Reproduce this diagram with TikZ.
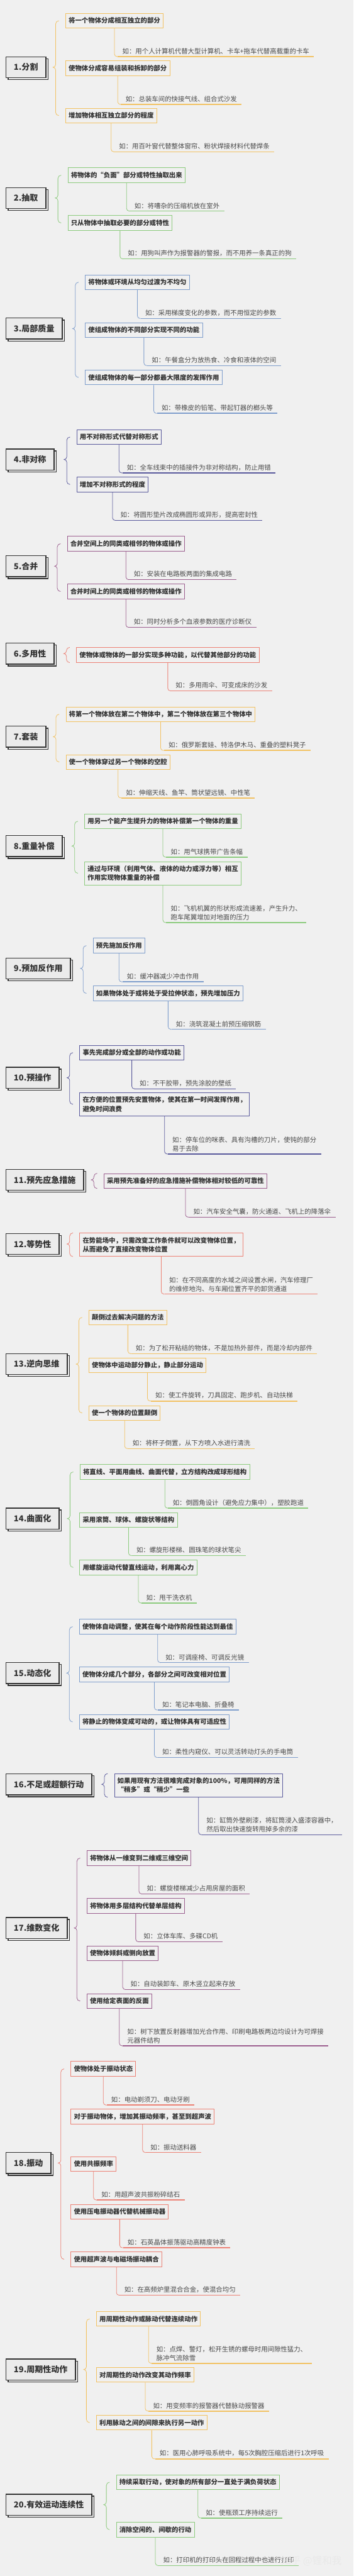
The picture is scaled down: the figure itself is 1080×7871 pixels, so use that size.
\documentclass[tikz,border=0pt]{standalone}
\usepackage{fontspec}
\setmainfont{Noto Sans CJK SC}
\usetikzlibrary{calc,shadows}
\definecolor{bgc}{HTML}{F0F0F0}
\definecolor{mfill}{HTML}{EBEBEB}
\definecolor{mdraw}{HTML}{333333}
\definecolor{ktext}{HTML}{333333}
\definecolor{etext}{HTML}{4A4A4A}
\definecolor{cyel}{HTML}{F2C263}
\definecolor{cgrn}{HTML}{8DCB7E}
\definecolor{cblu}{HTML}{7F9ECC}
\definecolor{cind}{HTML}{5A5A9C}
\definecolor{cplm}{HTML}{9C5F8F}
\definecolor{csal}{HTML}{EC8276}
\colorlet{cur}{cyel}
\tikzset{
  mainbox/.style={draw=mdraw, line width=2.5pt, fill=mfill, minimum height=64pt, inner xsep=24pt,
    font=\fontsize{25}{30}\selectfont\bfseries, text=ktext,
    copy shadow={shadow xshift=7pt, shadow yshift=-6pt, fill=mfill, draw=mdraw, line width=2.5pt}},
  kidbox/.style={draw=cur, line width=1.6pt, fill=bgc, inner xsep=9pt, minimum height=45pt,
    font=\fontsize{20}{27}\selectfont\bfseries, text=ktext, align=left},
  exbox/.style={inner xsep=14pt, inner ysep=7pt, font=\fontsize{20}{27}\selectfont, text=etext, align=left},
  exv/.style={draw=cur, line width=1.5pt, rounded corners=8pt},
  exu/.style={draw=cur, line width=3pt},
  brl/.style={draw=cur, line width=1.5pt},
}
\newcommand{\Kid}[7][]{%
  \node[kidbox,#1,anchor=north west] (#2) at (#3,#4) {#5};
  \node[exbox,anchor=south west,xshift=10pt] (#2e) at (#2.south |- 0,#6) {#7};
  \draw[exv] (#2.south) |- (#2e.south west);
  \draw[exu] (#2e.south west) -- (#2e.south east);
}
\newcommand{\Brace}[3]{%
  \draw[brl] let \p1=#1, \p2=#2, \p3=(#3.east) in
    (\x1-20pt,\y1) to[out=180,in=90] (\x1-30pt,\y1-10pt) -- (\x1-30pt,\y3+8pt)
    to[out=-90,in=0] (\x1-38pt,\y3) to[out=0,in=90] (\x1-30pt,\y3-8pt)
    -- (\x1-30pt,\y2+10pt) to[out=-90,in=180] (\x1-20pt,\y2);
}
\begin{document}
\begin{tikzpicture}[x=1pt,y=-1pt]
\fill[bgc] (0,0) rectangle (1080,7871);
\useasboundingbox (0,0) rectangle (1080,7871);

% 1
\colorlet{cur}{cyel}
\node[mainbox,anchor=west] (m1) at (17,205.5) {1.分割};
\Kid{k1a}{200}{40}{将一个物体分成相互独立的部分}{173}{如：用个人计算机代替大型计算机、卡车+拖车代替高载重的卡车}
\Kid{k1b}{200}{185}{使物体分成容易组装和拆卸的部分}{319}{如：总装车间的快接气线、组合式沙发}
\Kid{k1c}{200}{330}{增加物体相互独立部分的程度}{464}{如：用百叶窗代替整体窗帘、粉状焊接材料代替焊条}
\Brace{(k1a.west)}{(k1c.west)}{m1}

% 2
\colorlet{cur}{cgrn}
\node[mainbox,anchor=west] (m2) at (17,605) {2.抽取};
\Kid{k2a}{207}{512}{将物体的“负面”部分或特性抽取出来}{645}{如：将嘈杂的压缩机放在室外}
\Kid{k2b}{207}{658}{只从物体中抽取必要的部分或特性}{791}{如：用狗叫声作为报警器的警报，而不用养一条真正的狗}
\Brace{(k2a.west)}{(k2b.west)}{m2}

% 3
\colorlet{cur}{cblu}
\node[mainbox,anchor=west] (m3) at (17,1004) {3.局部质量};
\Kid{k3a}{260}{839}{将物体或环境从均匀过渡为不均匀}{973}{如：采用梯度变化的参数，而不用恒定的参数}
\Kid{k3b}{260}{985}{使组成物体的不同部分实现不同的功能}{1117}{如：午餐盒分为放热食、冷食和液体的空间}
\Kid{k3c}{260}{1130}{使组成物体的每一部分都最大限度的发挥作用}{1263}{如：带橡皮的铅笔、带起钉器的榔头等}
\Brace{(k3a.west)}{(k3c.west)}{m3}

% 4
\colorlet{cur}{cind}
\node[mainbox,anchor=west] (m4) at (17,1404) {4.非对称};
\Kid{k4a}{234}{1312}{用不对称形式代替对称形式}{1445}{如：全车线束中的插接件为非对称结构，防止用错}
\Kid{k4b}{234}{1457}{增加不对称形式的程度}{1590}{如：将圆形垫片改成椭圆形或异形，提高密封性}
\Brace{(k4a.west)}{(k4b.west)}{m4}

% 5
\colorlet{cur}{cplm}
\node[mainbox,anchor=west] (m5) at (17,1730) {5.合并};
\Kid{k5a}{205}{1638}{合并空间上的同类或相邻的物体或操作}{1771}{如：安装在电路板两面的集成电路}
\Kid{k5b}{205}{1784}{合并时间上的同类或相邻的物体或操作}{1917}{如：同时分析多个血液参数的医疗诊断仪}
\Brace{(k5a.west)}{(k5b.west)}{m5}

% 6
\colorlet{cur}{csal}
\node[mainbox,anchor=west] (m6) at (17,1997) {6.多用性};
\Kid{k6a}{233}{1978}{使物体或物体的一部分实现多种功能，以代替其他部分的功能}{2111}{如：多用雨伞、可变成床的沙发}
\Brace{(k6a.north west)}{(k6a.south west)}{m6}

% 7
\colorlet{cur}{cyel}
\node[mainbox,anchor=west] (m7) at (17,2251) {7.套装};
\Kid{k7a}{201}{2159}{将第一个物体放在第二个物体中，第二个物体放在第三个物体中}{2293}{如：俄罗斯套娃、特洛伊木马、重叠的塑料凳子}
\Kid{k7b}{201}{2305}{使一个物体穿过另一个物体的空腔}{2438}{如：伸缩天线、鱼竿、筒状望远镜、中性笔}
\Brace{(k7a.west)}{(k7b.west)}{m7}

% 8
\colorlet{cur}{cgrn}
\node[mainbox,anchor=west] (m8) at (17,2585) {8.重量补偿};
\Kid{k8a}{258}{2486}{用另一个能产生提升力的物体补偿第一个物体的重量}{2619}{如：用气球携带广告条幅}
\Kid[minimum height=71pt]{k8b}{258}{2632}{通过与环境（利用气体、液体的动力或浮力等）相互\\作用实现物体重量的补偿}{2819}{如：飞机机翼的形状形成流速差，产生升力、\\跑车尾翼增加对地面的压力}
\Brace{(k8a.west)}{(k8b.west)}{m8}

% 9
\colorlet{cur}{cblu}
\node[mainbox,anchor=west] (m9) at (17,2959) {9.预加反作用};
\Kid{k9a}{284}{2866}{预先施加反作用}{3000}{如：缓冲器减少冲击作用}
\Kid{k9b}{284}{3012}{如果物体处于或将处于受拉伸状态，预先增加压力}{3145}{如：浇筑混凝土前预压缩钢筋}
\Brace{(k9a.west)}{(k9b.west)}{m9}

% 10
\colorlet{cur}{cind}
\node[mainbox,anchor=west] (m10) at (17,3293) {10.预操作};
\Kid{k10a}{243}{3193}{事先完成部分或全部的动作或功能}{3327}{如：不干胶带，预先涂胶的壁纸}
\Kid[minimum height=71pt]{k10b}{243}{3338}{在方便的位置预先安置物体，使其在第一时间发挥作用，\\避免时间浪费}{3526}{如：停车位的咪表、具有沟槽的刀片，使钝的部分\\易于去除}
\Brace{(k10a.west)}{(k10b.west)}{m10}

% 11
\colorlet{cur}{cplm}
\node[mainbox,anchor=west] (m11) at (17,3605) {11.预先应急措施};
\Kid{k11a}{317}{3585}{采用预先准备好的应急措施补偿物体相对较低的可靠性}{3719}{如：汽车安全气囊，防火通道、飞机上的降落伞}
\Brace{(k11a.north west)}{(k11a.south west)}{m11}

% 12
\colorlet{cur}{csal}
\node[mainbox,anchor=west] (m12) at (17,3801) {12.等势性};
\Kid[minimum height=71pt]{k12a}{243}{3767}{在势能场中，只需改变工作条件就可以改变物体位置，\\从而避免了直接改变物体位置}{3954}{如：在不同高度的水域之间设置水闸，汽车修理厂\\的维修地沟、与车厢位置齐平的卸货通道}
\Brace{(k12a.north west)}{(k12a.south west)}{m12}

% 13
\colorlet{cur}{cyel}
\node[mainbox,anchor=west] (m13) at (17,4168) {13.逆向思维};
\Kid{k13a}{271}{4002}{颠倒过去解决问题的方法}{4136}{如：为了松开粘结的物体，不是加热外部件，而是冷却内部件}
\Kid{k13b}{271}{4148}{使物体中运动部分静止，静止部分运动}{4281}{如：使工件旋转，刀具固定、跑步机、自动扶梯}
\Kid{k13c}{271}{4294}{使一个物体的位置颠倒}{4426}{如：将杯子倒置，从下方喷入水进行清洗}
\Brace{(k13a.west)}{(k13c.west)}{m13}

% 14
\colorlet{cur}{cgrn}
\node[mainbox,anchor=west] (m14) at (17,4640) {14.曲面化};
\Kid{k14a}{244}{4474}{将直线、平面用曲线、曲面代替，立方结构改成球形结构}{4608}{如：倒圆角设计（避免应力集中），塑胶跑道}
\Kid{k14b}{243}{4621}{采用滚筒、球体、螺旋状等结构}{4753}{如：螺旋形楼梯、圆珠笔的球状笔尖}
\Kid{k14c}{243}{4766}{用螺旋运动代替直线运动，利用离心力}{4898}{如：甩干洗衣机}
\Brace{(k14a.west)}{(k14c.west)}{m14}

% 15
\colorlet{cur}{cblu}
\node[mainbox,anchor=west] (m15) at (17,5112) {15.动态化};
\Kid{k15a}{242}{4947}{使物体自动调整，使其在每个动作阶段性能达到最佳}{5080}{如：可调座椅、可调反光镜}
\Kid{k15b}{242}{5093}{使物体分成几个部分，各部分之间可改变相对位置}{5225}{如：笔记本电脑、折叠椅}
\Kid{k15c}{242}{5238}{将静止的物体变成可动的，或让物体具有可适应性}{5370}{如：柔性内窥仪、可以灵活转动灯头的手电筒}
\Brace{(k15a.west)}{(k15c.west)}{m15}

% 16
\colorlet{cur}{cind}
\node[mainbox,anchor=west] (m16) at (17,5452) {16.不足或超额行动};
\Kid[minimum height=71pt]{k16a}{349}{5419}{如果用现有方法很难完成对象的100\%，可用同样的方法\\“稍多”或“稍少”一些}{5606}{如：缸筒外壁刷漆，将缸筒浸入盛漆容器中，\\然后取出快速旋转甩掉多余的漆}
\Brace{(k16a.north west)}{(k16a.south west)}{m16}

% 17
\colorlet{cur}{cplm}
\node[mainbox,anchor=west] (m17) at (17,5891) {17.维数变化};
\Kid{k17a}{265}{5654}{将物体从一维变到二维或三维空间}{5787}{如：螺旋楼梯减少占用房屋的面积}
\Kid{k17b}{265}{5800}{将物体用多层结构代替单层结构}{5933}{如：立体车库、多碟CD机}
\Kid{k17c}{265}{5945}{使物体倾斜或侧向放置}{6079}{如：自动装卸车、原木竖立起来存放}
\Kid{k17d}{265}{6091}{使用给定表面的反面}{6251}{如：树下放置反射器增加光合作用、印刷电路板两边均设计为可焊接\\元器件结构}
\Brace{(k17a.west)}{(k17d.west)}{m17}

% 18
\colorlet{cur}{csal}
\node[mainbox,anchor=west] (m18) at (17,6609) {18.振动};
\Kid{k18a}{216}{6298}{使物体处于振动状态}{6432}{如：电动剃须刀、电动牙刷}
\Kid{k18b}{216}{6444}{对于振动物体，增加其振动频率，甚至到超声波}{6577}{如：振动送料器}
\Kid{k18c}{216}{6589}{使用共振频率}{6722}{如：用超声波共振粉碎结石}
\Kid{k18d}{216}{6735}{使用压电振动器代替机械振动器}{6868}{如：石英晶体振荡驱动高精度钟表}
\Kid{k18e}{216}{6880}{使用超声波与电磁场振动耦合}{7013}{如：在高频炉里混合合金，使混合均匀}
\Brace{(k18a.west)}{(k18e.west)}{m18}

% 19
\colorlet{cur}{cyel}
\node[mainbox,anchor=west] (m19) at (17,7240) {19.周期性动作};
\Kid{k19a}{294}{7062}{用周期性动作或脉动代替连续动作}{7221}{如：点焊、警灯，松开生锈的螺母时用间隙性猛力、\\脉冲气流除雪}
\Kid{k19b}{294}{7233}{对周期性的动作改变其动作频率}{7367}{如：用变频率的报警器代替脉动报警器}
\Kid{k19c}{294}{7379}{利用脉动之间的间隙来执行另一动作}{7513}{如：医用心肺呼吸系统中，每5次胸腔压缩后进行1次呼吸}
\Brace{(k19a.west)}{(k19c.west)}{m19}

% 20
\colorlet{cur}{cgrn}
\node[mainbox,anchor=west] (m20) at (17,7653) {20.有效运动连续性};
\Kid{k20a}{355}{7561}{持续采取行动，使对象的所有部分一直处于满负荷状态}{7694}{如：使瓶颈工序持续运行}
\Kid{k20b}{355}{7706}{消除空闲的、间歇的行动}{7839}{如：打印机的打印头在回程过程中也进行打印}
\Brace{(k20a.west)}{(k20b.west)}{m20}

\node[font=\fontsize{30}{30}\selectfont, text=white!82!gray, opacity=0.9] (wm) at (952,7826) {知乎 @锂和我};
\end{tikzpicture}
\end{document}
